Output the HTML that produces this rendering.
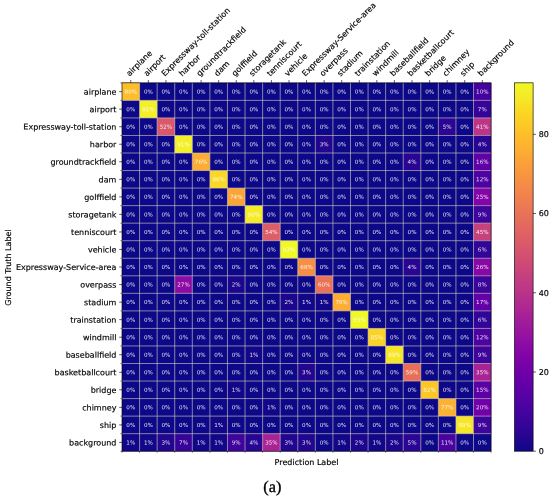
<!DOCTYPE html>
<html><head><meta charset="utf-8"><title>Confusion matrix (a)</title>
<style>html,body{margin:0;padding:0;background:#fff}body{width:550px;height:500px;overflow:hidden}svg{display:block}text{font-family:"DejaVu Sans","Liberation Sans",sans-serif;text-rendering:geometricPrecision}.t{font-size:8px;fill:#000;stroke:#000;stroke-width:0.16px}.c{font-size:56px;fill:#fff;fill-opacity:0.88;text-anchor:middle}.cap{font-family:"Liberation Serif","DejaVu Serif",serif;font-size:16.3px;fill:#000;stroke:#000;stroke-width:0.35px}</style></head><body>
<svg width="550" height="500" viewBox="0 0 550 500">
<rect width="550" height="500" fill="#fff"/>
<defs><linearGradient id="pl" x1="0" y1="1" x2="0" y2="0">
<stop offset="0.0000" stop-color="#0d0887"/>
<stop offset="0.0208" stop-color="#1b068d"/>
<stop offset="0.0417" stop-color="#260591"/>
<stop offset="0.0625" stop-color="#310597"/>
<stop offset="0.0833" stop-color="#3a049a"/>
<stop offset="0.1042" stop-color="#43039e"/>
<stop offset="0.1250" stop-color="#4c02a1"/>
<stop offset="0.1458" stop-color="#5502a4"/>
<stop offset="0.1667" stop-color="#5c01a6"/>
<stop offset="0.1875" stop-color="#6600a7"/>
<stop offset="0.2083" stop-color="#6e00a8"/>
<stop offset="0.2292" stop-color="#7501a8"/>
<stop offset="0.2500" stop-color="#7e03a8"/>
<stop offset="0.2708" stop-color="#8606a6"/>
<stop offset="0.2917" stop-color="#8d0ba5"/>
<stop offset="0.3125" stop-color="#9511a1"/>
<stop offset="0.3333" stop-color="#9c179e"/>
<stop offset="0.3542" stop-color="#a21d9a"/>
<stop offset="0.3750" stop-color="#aa2395"/>
<stop offset="0.3958" stop-color="#b02991"/>
<stop offset="0.4167" stop-color="#b52f8c"/>
<stop offset="0.4375" stop-color="#bc3587"/>
<stop offset="0.4583" stop-color="#c13b82"/>
<stop offset="0.4792" stop-color="#c6417d"/>
<stop offset="0.5000" stop-color="#cc4778"/>
<stop offset="0.5208" stop-color="#d04d73"/>
<stop offset="0.5417" stop-color="#d5536f"/>
<stop offset="0.5625" stop-color="#da5a6a"/>
<stop offset="0.5833" stop-color="#de5f65"/>
<stop offset="0.6042" stop-color="#e26561"/>
<stop offset="0.6250" stop-color="#e66c5c"/>
<stop offset="0.6458" stop-color="#e97257"/>
<stop offset="0.6667" stop-color="#ed7953"/>
<stop offset="0.6875" stop-color="#f0804e"/>
<stop offset="0.7083" stop-color="#f3874a"/>
<stop offset="0.7292" stop-color="#f68d45"/>
<stop offset="0.7500" stop-color="#f89540"/>
<stop offset="0.7708" stop-color="#fa9c3c"/>
<stop offset="0.7917" stop-color="#fca338"/>
<stop offset="0.8125" stop-color="#fdac33"/>
<stop offset="0.8333" stop-color="#fdb42f"/>
<stop offset="0.8542" stop-color="#febb2b"/>
<stop offset="0.8750" stop-color="#fdc527"/>
<stop offset="0.8958" stop-color="#fccd25"/>
<stop offset="0.9167" stop-color="#fbd524"/>
<stop offset="0.9375" stop-color="#f8df25"/>
<stop offset="0.9583" stop-color="#f6e826"/>
<stop offset="0.9792" stop-color="#f3f027"/>
<stop offset="1.0000" stop-color="#f0f921"/>
</linearGradient></defs>
<rect x="122" y="82.85" width="369.1" height="368.35" fill="#0d0887"/>
<rect x="122.00" y="82.85" width="17.58" height="17.54" fill="#febe2a"/>
<rect x="473.52" y="82.85" width="17.58" height="17.54" fill="#44039e"/>
<rect x="139.58" y="100.39" width="17.58" height="17.54" fill="#f3f027"/>
<rect x="473.52" y="100.39" width="17.58" height="17.54" fill="#370499"/>
<rect x="157.15" y="117.93" width="17.58" height="17.54" fill="#d9586a"/>
<rect x="438.37" y="117.93" width="17.58" height="17.54" fill="#2c0594"/>
<rect x="473.52" y="117.93" width="17.58" height="17.54" fill="#bc3587"/>
<rect x="174.73" y="135.47" width="17.58" height="17.54" fill="#f3f027"/>
<rect x="315.34" y="135.47" width="17.58" height="17.54" fill="#220690"/>
<rect x="473.52" y="135.47" width="17.58" height="17.54" fill="#280592"/>
<rect x="192.30" y="153.01" width="17.58" height="17.54" fill="#fdae32"/>
<rect x="403.22" y="153.01" width="17.58" height="17.54" fill="#280592"/>
<rect x="473.52" y="153.01" width="17.58" height="17.54" fill="#6001a6"/>
<rect x="209.88" y="170.55" width="17.58" height="17.54" fill="#fad824"/>
<rect x="473.52" y="170.55" width="17.58" height="17.54" fill="#4e02a2"/>
<rect x="227.46" y="188.09" width="17.58" height="17.54" fill="#fca537"/>
<rect x="473.52" y="188.09" width="17.58" height="17.54" fill="#8405a7"/>
<rect x="245.03" y="205.63" width="17.58" height="17.54" fill="#f5eb27"/>
<rect x="473.52" y="205.63" width="17.58" height="17.54" fill="#3f049c"/>
<rect x="262.61" y="223.17" width="17.58" height="17.54" fill="#dd5e66"/>
<rect x="473.52" y="223.17" width="17.58" height="17.54" fill="#c7427c"/>
<rect x="280.19" y="240.71" width="17.58" height="17.54" fill="#f0f921"/>
<rect x="473.52" y="240.71" width="17.58" height="17.54" fill="#310597"/>
<rect x="297.76" y="258.25" width="17.58" height="17.54" fill="#f68f44"/>
<rect x="403.22" y="258.25" width="17.58" height="17.54" fill="#280592"/>
<rect x="473.52" y="258.25" width="17.58" height="17.54" fill="#8808a6"/>
<rect x="174.73" y="275.80" width="17.58" height="17.54" fill="#8d0ba5"/>
<rect x="227.46" y="275.80" width="17.58" height="17.54" fill="#1b068d"/>
<rect x="315.34" y="275.80" width="17.58" height="17.54" fill="#e97257"/>
<rect x="473.52" y="275.80" width="17.58" height="17.54" fill="#3c049b"/>
<rect x="280.19" y="293.34" width="17.58" height="17.54" fill="#1b068d"/>
<rect x="297.76" y="293.34" width="17.58" height="17.54" fill="#130789"/>
<rect x="315.34" y="293.34" width="17.58" height="17.54" fill="#130789"/>
<rect x="332.91" y="293.34" width="17.58" height="17.54" fill="#fdae32"/>
<rect x="473.52" y="293.34" width="17.58" height="17.54" fill="#6300a7"/>
<rect x="350.49" y="310.88" width="17.58" height="17.54" fill="#f0f921"/>
<rect x="473.52" y="310.88" width="17.58" height="17.54" fill="#310597"/>
<rect x="368.07" y="328.42" width="17.58" height="17.54" fill="#fbd324"/>
<rect x="473.52" y="328.42" width="17.58" height="17.54" fill="#4e02a2"/>
<rect x="245.03" y="345.96" width="17.58" height="17.54" fill="#130789"/>
<rect x="385.64" y="345.96" width="17.58" height="17.54" fill="#f6e626"/>
<rect x="473.52" y="345.96" width="17.58" height="17.54" fill="#3f049c"/>
<rect x="297.76" y="363.50" width="17.58" height="17.54" fill="#220690"/>
<rect x="403.22" y="363.50" width="17.58" height="17.54" fill="#e76f5a"/>
<rect x="473.52" y="363.50" width="17.58" height="17.54" fill="#aa2395"/>
<rect x="227.46" y="381.04" width="17.58" height="17.54" fill="#130789"/>
<rect x="420.80" y="381.04" width="17.58" height="17.54" fill="#fdc627"/>
<rect x="473.52" y="381.04" width="17.58" height="17.54" fill="#5b01a5"/>
<rect x="262.61" y="398.58" width="17.58" height="17.54" fill="#130789"/>
<rect x="438.37" y="398.58" width="17.58" height="17.54" fill="#fdb130"/>
<rect x="473.52" y="398.58" width="17.58" height="17.54" fill="#7100a8"/>
<rect x="209.88" y="416.12" width="17.58" height="17.54" fill="#130789"/>
<rect x="455.95" y="416.12" width="17.58" height="17.54" fill="#f6e626"/>
<rect x="473.52" y="416.12" width="17.58" height="17.54" fill="#3f049c"/>
<rect x="122.00" y="433.66" width="17.58" height="17.54" fill="#130789"/>
<rect x="139.58" y="433.66" width="17.58" height="17.54" fill="#130789"/>
<rect x="157.15" y="433.66" width="17.58" height="17.54" fill="#220690"/>
<rect x="174.73" y="433.66" width="17.58" height="17.54" fill="#370499"/>
<rect x="192.30" y="433.66" width="17.58" height="17.54" fill="#130789"/>
<rect x="209.88" y="433.66" width="17.58" height="17.54" fill="#130789"/>
<rect x="227.46" y="433.66" width="17.58" height="17.54" fill="#3f049c"/>
<rect x="245.03" y="433.66" width="17.58" height="17.54" fill="#280592"/>
<rect x="262.61" y="433.66" width="17.58" height="17.54" fill="#aa2395"/>
<rect x="280.19" y="433.66" width="17.58" height="17.54" fill="#220690"/>
<rect x="297.76" y="433.66" width="17.58" height="17.54" fill="#220690"/>
<rect x="332.91" y="433.66" width="17.58" height="17.54" fill="#130789"/>
<rect x="350.49" y="433.66" width="17.58" height="17.54" fill="#1b068d"/>
<rect x="368.07" y="433.66" width="17.58" height="17.54" fill="#130789"/>
<rect x="385.64" y="433.66" width="17.58" height="17.54" fill="#1b068d"/>
<rect x="403.22" y="433.66" width="17.58" height="17.54" fill="#2c0594"/>
<rect x="438.37" y="433.66" width="17.58" height="17.54" fill="#4903a0"/>
<path d="M139.58 82.85V451.2M122 100.39H491.1M157.15 82.85V451.2M122 117.93H491.1M174.73 82.85V451.2M122 135.47H491.1M192.30 82.85V451.2M122 153.01H491.1M209.88 82.85V451.2M122 170.55H491.1M227.46 82.85V451.2M122 188.09H491.1M245.03 82.85V451.2M122 205.63H491.1M262.61 82.85V451.2M122 223.17H491.1M280.19 82.85V451.2M122 240.71H491.1M297.76 82.85V451.2M122 258.25H491.1M315.34 82.85V451.2M122 275.80H491.1M332.91 82.85V451.2M122 293.34H491.1M350.49 82.85V451.2M122 310.88H491.1M368.07 82.85V451.2M122 328.42H491.1M385.64 82.85V451.2M122 345.96H491.1M403.22 82.85V451.2M122 363.50H491.1M420.80 82.85V451.2M122 381.04H491.1M438.37 82.85V451.2M122 398.58H491.1M455.95 82.85V451.2M122 416.12H491.1M473.52 82.85V451.2M122 433.66H491.1" stroke="#d4ccc0" stroke-width="0.62" fill="none"/>
<g class="c">
<text transform="translate(130.79 93.64) rotate(0.4) scale(0.1)">80%</text>
<text transform="translate(148.36 93.64) rotate(0.4) scale(0.1)">0%</text>
<text transform="translate(165.94 93.64) rotate(0.4) scale(0.1)">0%</text>
<text transform="translate(183.52 93.64) rotate(0.4) scale(0.1)">0%</text>
<text transform="translate(201.09 93.64) rotate(0.4) scale(0.1)">0%</text>
<text transform="translate(218.67 93.64) rotate(0.4) scale(0.1)">0%</text>
<text transform="translate(236.25 93.64) rotate(0.4) scale(0.1)">0%</text>
<text transform="translate(253.82 93.64) rotate(0.4) scale(0.1)">0%</text>
<text transform="translate(271.40 93.64) rotate(0.4) scale(0.1)">0%</text>
<text transform="translate(288.97 93.64) rotate(0.4) scale(0.1)">0%</text>
<text transform="translate(306.55 93.64) rotate(0.4) scale(0.1)">0%</text>
<text transform="translate(324.13 93.64) rotate(0.4) scale(0.1)">0%</text>
<text transform="translate(341.70 93.64) rotate(0.4) scale(0.1)">0%</text>
<text transform="translate(359.28 93.64) rotate(0.4) scale(0.1)">0%</text>
<text transform="translate(376.85 93.64) rotate(0.4) scale(0.1)">0%</text>
<text transform="translate(394.43 93.64) rotate(0.4) scale(0.1)">0%</text>
<text transform="translate(412.01 93.64) rotate(0.4) scale(0.1)">0%</text>
<text transform="translate(429.58 93.64) rotate(0.4) scale(0.1)">0%</text>
<text transform="translate(447.16 93.64) rotate(0.4) scale(0.1)">0%</text>
<text transform="translate(464.74 93.64) rotate(0.4) scale(0.1)">0%</text>
<text transform="translate(482.31 93.64) rotate(0.4) scale(0.1)">10%</text>
<text transform="translate(130.79 111.18) rotate(0.4) scale(0.1)">0%</text>
<text transform="translate(148.36 111.18) rotate(0.4) scale(0.1)">91%</text>
<text transform="translate(165.94 111.18) rotate(0.4) scale(0.1)">0%</text>
<text transform="translate(183.52 111.18) rotate(0.4) scale(0.1)">0%</text>
<text transform="translate(201.09 111.18) rotate(0.4) scale(0.1)">0%</text>
<text transform="translate(218.67 111.18) rotate(0.4) scale(0.1)">0%</text>
<text transform="translate(236.25 111.18) rotate(0.4) scale(0.1)">0%</text>
<text transform="translate(253.82 111.18) rotate(0.4) scale(0.1)">0%</text>
<text transform="translate(271.40 111.18) rotate(0.4) scale(0.1)">0%</text>
<text transform="translate(288.97 111.18) rotate(0.4) scale(0.1)">0%</text>
<text transform="translate(306.55 111.18) rotate(0.4) scale(0.1)">0%</text>
<text transform="translate(324.13 111.18) rotate(0.4) scale(0.1)">0%</text>
<text transform="translate(341.70 111.18) rotate(0.4) scale(0.1)">0%</text>
<text transform="translate(359.28 111.18) rotate(0.4) scale(0.1)">0%</text>
<text transform="translate(376.85 111.18) rotate(0.4) scale(0.1)">0%</text>
<text transform="translate(394.43 111.18) rotate(0.4) scale(0.1)">0%</text>
<text transform="translate(412.01 111.18) rotate(0.4) scale(0.1)">0%</text>
<text transform="translate(429.58 111.18) rotate(0.4) scale(0.1)">0%</text>
<text transform="translate(447.16 111.18) rotate(0.4) scale(0.1)">0%</text>
<text transform="translate(464.74 111.18) rotate(0.4) scale(0.1)">0%</text>
<text transform="translate(482.31 111.18) rotate(0.4) scale(0.1)">7%</text>
<text transform="translate(130.79 128.72) rotate(0.4) scale(0.1)">0%</text>
<text transform="translate(148.36 128.72) rotate(0.4) scale(0.1)">0%</text>
<text transform="translate(165.94 128.72) rotate(0.4) scale(0.1)">52%</text>
<text transform="translate(183.52 128.72) rotate(0.4) scale(0.1)">0%</text>
<text transform="translate(201.09 128.72) rotate(0.4) scale(0.1)">0%</text>
<text transform="translate(218.67 128.72) rotate(0.4) scale(0.1)">0%</text>
<text transform="translate(236.25 128.72) rotate(0.4) scale(0.1)">0%</text>
<text transform="translate(253.82 128.72) rotate(0.4) scale(0.1)">0%</text>
<text transform="translate(271.40 128.72) rotate(0.4) scale(0.1)">0%</text>
<text transform="translate(288.97 128.72) rotate(0.4) scale(0.1)">0%</text>
<text transform="translate(306.55 128.72) rotate(0.4) scale(0.1)">0%</text>
<text transform="translate(324.13 128.72) rotate(0.4) scale(0.1)">0%</text>
<text transform="translate(341.70 128.72) rotate(0.4) scale(0.1)">0%</text>
<text transform="translate(359.28 128.72) rotate(0.4) scale(0.1)">0%</text>
<text transform="translate(376.85 128.72) rotate(0.4) scale(0.1)">0%</text>
<text transform="translate(394.43 128.72) rotate(0.4) scale(0.1)">0%</text>
<text transform="translate(412.01 128.72) rotate(0.4) scale(0.1)">0%</text>
<text transform="translate(429.58 128.72) rotate(0.4) scale(0.1)">0%</text>
<text transform="translate(447.16 128.72) rotate(0.4) scale(0.1)">5%</text>
<text transform="translate(464.74 128.72) rotate(0.4) scale(0.1)">0%</text>
<text transform="translate(482.31 128.72) rotate(0.4) scale(0.1)">41%</text>
<text transform="translate(130.79 146.26) rotate(0.4) scale(0.1)">0%</text>
<text transform="translate(148.36 146.26) rotate(0.4) scale(0.1)">0%</text>
<text transform="translate(165.94 146.26) rotate(0.4) scale(0.1)">0%</text>
<text transform="translate(183.52 146.26) rotate(0.4) scale(0.1)">91%</text>
<text transform="translate(201.09 146.26) rotate(0.4) scale(0.1)">0%</text>
<text transform="translate(218.67 146.26) rotate(0.4) scale(0.1)">0%</text>
<text transform="translate(236.25 146.26) rotate(0.4) scale(0.1)">0%</text>
<text transform="translate(253.82 146.26) rotate(0.4) scale(0.1)">0%</text>
<text transform="translate(271.40 146.26) rotate(0.4) scale(0.1)">0%</text>
<text transform="translate(288.97 146.26) rotate(0.4) scale(0.1)">0%</text>
<text transform="translate(306.55 146.26) rotate(0.4) scale(0.1)">0%</text>
<text transform="translate(324.13 146.26) rotate(0.4) scale(0.1)">3%</text>
<text transform="translate(341.70 146.26) rotate(0.4) scale(0.1)">0%</text>
<text transform="translate(359.28 146.26) rotate(0.4) scale(0.1)">0%</text>
<text transform="translate(376.85 146.26) rotate(0.4) scale(0.1)">0%</text>
<text transform="translate(394.43 146.26) rotate(0.4) scale(0.1)">0%</text>
<text transform="translate(412.01 146.26) rotate(0.4) scale(0.1)">0%</text>
<text transform="translate(429.58 146.26) rotate(0.4) scale(0.1)">0%</text>
<text transform="translate(447.16 146.26) rotate(0.4) scale(0.1)">0%</text>
<text transform="translate(464.74 146.26) rotate(0.4) scale(0.1)">0%</text>
<text transform="translate(482.31 146.26) rotate(0.4) scale(0.1)">4%</text>
<text transform="translate(130.79 163.80) rotate(0.4) scale(0.1)">0%</text>
<text transform="translate(148.36 163.80) rotate(0.4) scale(0.1)">0%</text>
<text transform="translate(165.94 163.80) rotate(0.4) scale(0.1)">0%</text>
<text transform="translate(183.52 163.80) rotate(0.4) scale(0.1)">0%</text>
<text transform="translate(201.09 163.80) rotate(0.4) scale(0.1)">76%</text>
<text transform="translate(218.67 163.80) rotate(0.4) scale(0.1)">0%</text>
<text transform="translate(236.25 163.80) rotate(0.4) scale(0.1)">0%</text>
<text transform="translate(253.82 163.80) rotate(0.4) scale(0.1)">0%</text>
<text transform="translate(271.40 163.80) rotate(0.4) scale(0.1)">0%</text>
<text transform="translate(288.97 163.80) rotate(0.4) scale(0.1)">0%</text>
<text transform="translate(306.55 163.80) rotate(0.4) scale(0.1)">0%</text>
<text transform="translate(324.13 163.80) rotate(0.4) scale(0.1)">0%</text>
<text transform="translate(341.70 163.80) rotate(0.4) scale(0.1)">0%</text>
<text transform="translate(359.28 163.80) rotate(0.4) scale(0.1)">0%</text>
<text transform="translate(376.85 163.80) rotate(0.4) scale(0.1)">0%</text>
<text transform="translate(394.43 163.80) rotate(0.4) scale(0.1)">0%</text>
<text transform="translate(412.01 163.80) rotate(0.4) scale(0.1)">4%</text>
<text transform="translate(429.58 163.80) rotate(0.4) scale(0.1)">0%</text>
<text transform="translate(447.16 163.80) rotate(0.4) scale(0.1)">0%</text>
<text transform="translate(464.74 163.80) rotate(0.4) scale(0.1)">0%</text>
<text transform="translate(482.31 163.80) rotate(0.4) scale(0.1)">16%</text>
<text transform="translate(130.79 181.34) rotate(0.4) scale(0.1)">0%</text>
<text transform="translate(148.36 181.34) rotate(0.4) scale(0.1)">0%</text>
<text transform="translate(165.94 181.34) rotate(0.4) scale(0.1)">0%</text>
<text transform="translate(183.52 181.34) rotate(0.4) scale(0.1)">0%</text>
<text transform="translate(201.09 181.34) rotate(0.4) scale(0.1)">0%</text>
<text transform="translate(218.67 181.34) rotate(0.4) scale(0.1)">86%</text>
<text transform="translate(236.25 181.34) rotate(0.4) scale(0.1)">0%</text>
<text transform="translate(253.82 181.34) rotate(0.4) scale(0.1)">0%</text>
<text transform="translate(271.40 181.34) rotate(0.4) scale(0.1)">0%</text>
<text transform="translate(288.97 181.34) rotate(0.4) scale(0.1)">0%</text>
<text transform="translate(306.55 181.34) rotate(0.4) scale(0.1)">0%</text>
<text transform="translate(324.13 181.34) rotate(0.4) scale(0.1)">0%</text>
<text transform="translate(341.70 181.34) rotate(0.4) scale(0.1)">0%</text>
<text transform="translate(359.28 181.34) rotate(0.4) scale(0.1)">0%</text>
<text transform="translate(376.85 181.34) rotate(0.4) scale(0.1)">0%</text>
<text transform="translate(394.43 181.34) rotate(0.4) scale(0.1)">0%</text>
<text transform="translate(412.01 181.34) rotate(0.4) scale(0.1)">0%</text>
<text transform="translate(429.58 181.34) rotate(0.4) scale(0.1)">0%</text>
<text transform="translate(447.16 181.34) rotate(0.4) scale(0.1)">0%</text>
<text transform="translate(464.74 181.34) rotate(0.4) scale(0.1)">0%</text>
<text transform="translate(482.31 181.34) rotate(0.4) scale(0.1)">12%</text>
<text transform="translate(130.79 198.88) rotate(0.4) scale(0.1)">0%</text>
<text transform="translate(148.36 198.88) rotate(0.4) scale(0.1)">0%</text>
<text transform="translate(165.94 198.88) rotate(0.4) scale(0.1)">0%</text>
<text transform="translate(183.52 198.88) rotate(0.4) scale(0.1)">0%</text>
<text transform="translate(201.09 198.88) rotate(0.4) scale(0.1)">0%</text>
<text transform="translate(218.67 198.88) rotate(0.4) scale(0.1)">0%</text>
<text transform="translate(236.25 198.88) rotate(0.4) scale(0.1)">74%</text>
<text transform="translate(253.82 198.88) rotate(0.4) scale(0.1)">0%</text>
<text transform="translate(271.40 198.88) rotate(0.4) scale(0.1)">0%</text>
<text transform="translate(288.97 198.88) rotate(0.4) scale(0.1)">0%</text>
<text transform="translate(306.55 198.88) rotate(0.4) scale(0.1)">0%</text>
<text transform="translate(324.13 198.88) rotate(0.4) scale(0.1)">0%</text>
<text transform="translate(341.70 198.88) rotate(0.4) scale(0.1)">0%</text>
<text transform="translate(359.28 198.88) rotate(0.4) scale(0.1)">0%</text>
<text transform="translate(376.85 198.88) rotate(0.4) scale(0.1)">0%</text>
<text transform="translate(394.43 198.88) rotate(0.4) scale(0.1)">0%</text>
<text transform="translate(412.01 198.88) rotate(0.4) scale(0.1)">0%</text>
<text transform="translate(429.58 198.88) rotate(0.4) scale(0.1)">0%</text>
<text transform="translate(447.16 198.88) rotate(0.4) scale(0.1)">0%</text>
<text transform="translate(464.74 198.88) rotate(0.4) scale(0.1)">0%</text>
<text transform="translate(482.31 198.88) rotate(0.4) scale(0.1)">25%</text>
<text transform="translate(130.79 216.42) rotate(0.4) scale(0.1)">0%</text>
<text transform="translate(148.36 216.42) rotate(0.4) scale(0.1)">0%</text>
<text transform="translate(165.94 216.42) rotate(0.4) scale(0.1)">0%</text>
<text transform="translate(183.52 216.42) rotate(0.4) scale(0.1)">0%</text>
<text transform="translate(201.09 216.42) rotate(0.4) scale(0.1)">0%</text>
<text transform="translate(218.67 216.42) rotate(0.4) scale(0.1)">0%</text>
<text transform="translate(236.25 216.42) rotate(0.4) scale(0.1)">0%</text>
<text transform="translate(253.82 216.42) rotate(0.4) scale(0.1)">90%</text>
<text transform="translate(271.40 216.42) rotate(0.4) scale(0.1)">0%</text>
<text transform="translate(288.97 216.42) rotate(0.4) scale(0.1)">0%</text>
<text transform="translate(306.55 216.42) rotate(0.4) scale(0.1)">0%</text>
<text transform="translate(324.13 216.42) rotate(0.4) scale(0.1)">0%</text>
<text transform="translate(341.70 216.42) rotate(0.4) scale(0.1)">0%</text>
<text transform="translate(359.28 216.42) rotate(0.4) scale(0.1)">0%</text>
<text transform="translate(376.85 216.42) rotate(0.4) scale(0.1)">0%</text>
<text transform="translate(394.43 216.42) rotate(0.4) scale(0.1)">0%</text>
<text transform="translate(412.01 216.42) rotate(0.4) scale(0.1)">0%</text>
<text transform="translate(429.58 216.42) rotate(0.4) scale(0.1)">0%</text>
<text transform="translate(447.16 216.42) rotate(0.4) scale(0.1)">0%</text>
<text transform="translate(464.74 216.42) rotate(0.4) scale(0.1)">0%</text>
<text transform="translate(482.31 216.42) rotate(0.4) scale(0.1)">9%</text>
<text transform="translate(130.79 233.96) rotate(0.4) scale(0.1)">0%</text>
<text transform="translate(148.36 233.96) rotate(0.4) scale(0.1)">0%</text>
<text transform="translate(165.94 233.96) rotate(0.4) scale(0.1)">0%</text>
<text transform="translate(183.52 233.96) rotate(0.4) scale(0.1)">0%</text>
<text transform="translate(201.09 233.96) rotate(0.4) scale(0.1)">0%</text>
<text transform="translate(218.67 233.96) rotate(0.4) scale(0.1)">0%</text>
<text transform="translate(236.25 233.96) rotate(0.4) scale(0.1)">0%</text>
<text transform="translate(253.82 233.96) rotate(0.4) scale(0.1)">0%</text>
<text transform="translate(271.40 233.96) rotate(0.4) scale(0.1)">54%</text>
<text transform="translate(288.97 233.96) rotate(0.4) scale(0.1)">0%</text>
<text transform="translate(306.55 233.96) rotate(0.4) scale(0.1)">0%</text>
<text transform="translate(324.13 233.96) rotate(0.4) scale(0.1)">0%</text>
<text transform="translate(341.70 233.96) rotate(0.4) scale(0.1)">0%</text>
<text transform="translate(359.28 233.96) rotate(0.4) scale(0.1)">0%</text>
<text transform="translate(376.85 233.96) rotate(0.4) scale(0.1)">0%</text>
<text transform="translate(394.43 233.96) rotate(0.4) scale(0.1)">0%</text>
<text transform="translate(412.01 233.96) rotate(0.4) scale(0.1)">0%</text>
<text transform="translate(429.58 233.96) rotate(0.4) scale(0.1)">0%</text>
<text transform="translate(447.16 233.96) rotate(0.4) scale(0.1)">0%</text>
<text transform="translate(464.74 233.96) rotate(0.4) scale(0.1)">0%</text>
<text transform="translate(482.31 233.96) rotate(0.4) scale(0.1)">45%</text>
<text transform="translate(130.79 251.50) rotate(0.4) scale(0.1)">0%</text>
<text transform="translate(148.36 251.50) rotate(0.4) scale(0.1)">0%</text>
<text transform="translate(165.94 251.50) rotate(0.4) scale(0.1)">0%</text>
<text transform="translate(183.52 251.50) rotate(0.4) scale(0.1)">0%</text>
<text transform="translate(201.09 251.50) rotate(0.4) scale(0.1)">0%</text>
<text transform="translate(218.67 251.50) rotate(0.4) scale(0.1)">0%</text>
<text transform="translate(236.25 251.50) rotate(0.4) scale(0.1)">0%</text>
<text transform="translate(253.82 251.50) rotate(0.4) scale(0.1)">0%</text>
<text transform="translate(271.40 251.50) rotate(0.4) scale(0.1)">0%</text>
<text transform="translate(288.97 251.50) rotate(0.4) scale(0.1)">93%</text>
<text transform="translate(306.55 251.50) rotate(0.4) scale(0.1)">0%</text>
<text transform="translate(324.13 251.50) rotate(0.4) scale(0.1)">0%</text>
<text transform="translate(341.70 251.50) rotate(0.4) scale(0.1)">0%</text>
<text transform="translate(359.28 251.50) rotate(0.4) scale(0.1)">0%</text>
<text transform="translate(376.85 251.50) rotate(0.4) scale(0.1)">0%</text>
<text transform="translate(394.43 251.50) rotate(0.4) scale(0.1)">0%</text>
<text transform="translate(412.01 251.50) rotate(0.4) scale(0.1)">0%</text>
<text transform="translate(429.58 251.50) rotate(0.4) scale(0.1)">0%</text>
<text transform="translate(447.16 251.50) rotate(0.4) scale(0.1)">0%</text>
<text transform="translate(464.74 251.50) rotate(0.4) scale(0.1)">0%</text>
<text transform="translate(482.31 251.50) rotate(0.4) scale(0.1)">6%</text>
<text transform="translate(130.79 269.04) rotate(0.4) scale(0.1)">0%</text>
<text transform="translate(148.36 269.04) rotate(0.4) scale(0.1)">0%</text>
<text transform="translate(165.94 269.04) rotate(0.4) scale(0.1)">0%</text>
<text transform="translate(183.52 269.04) rotate(0.4) scale(0.1)">0%</text>
<text transform="translate(201.09 269.04) rotate(0.4) scale(0.1)">0%</text>
<text transform="translate(218.67 269.04) rotate(0.4) scale(0.1)">0%</text>
<text transform="translate(236.25 269.04) rotate(0.4) scale(0.1)">0%</text>
<text transform="translate(253.82 269.04) rotate(0.4) scale(0.1)">0%</text>
<text transform="translate(271.40 269.04) rotate(0.4) scale(0.1)">0%</text>
<text transform="translate(288.97 269.04) rotate(0.4) scale(0.1)">0%</text>
<text transform="translate(306.55 269.04) rotate(0.4) scale(0.1)">68%</text>
<text transform="translate(324.13 269.04) rotate(0.4) scale(0.1)">0%</text>
<text transform="translate(341.70 269.04) rotate(0.4) scale(0.1)">0%</text>
<text transform="translate(359.28 269.04) rotate(0.4) scale(0.1)">0%</text>
<text transform="translate(376.85 269.04) rotate(0.4) scale(0.1)">0%</text>
<text transform="translate(394.43 269.04) rotate(0.4) scale(0.1)">0%</text>
<text transform="translate(412.01 269.04) rotate(0.4) scale(0.1)">4%</text>
<text transform="translate(429.58 269.04) rotate(0.4) scale(0.1)">0%</text>
<text transform="translate(447.16 269.04) rotate(0.4) scale(0.1)">0%</text>
<text transform="translate(464.74 269.04) rotate(0.4) scale(0.1)">0%</text>
<text transform="translate(482.31 269.04) rotate(0.4) scale(0.1)">26%</text>
<text transform="translate(130.79 286.58) rotate(0.4) scale(0.1)">0%</text>
<text transform="translate(148.36 286.58) rotate(0.4) scale(0.1)">0%</text>
<text transform="translate(165.94 286.58) rotate(0.4) scale(0.1)">0%</text>
<text transform="translate(183.52 286.58) rotate(0.4) scale(0.1)">27%</text>
<text transform="translate(201.09 286.58) rotate(0.4) scale(0.1)">0%</text>
<text transform="translate(218.67 286.58) rotate(0.4) scale(0.1)">0%</text>
<text transform="translate(236.25 286.58) rotate(0.4) scale(0.1)">2%</text>
<text transform="translate(253.82 286.58) rotate(0.4) scale(0.1)">0%</text>
<text transform="translate(271.40 286.58) rotate(0.4) scale(0.1)">0%</text>
<text transform="translate(288.97 286.58) rotate(0.4) scale(0.1)">0%</text>
<text transform="translate(306.55 286.58) rotate(0.4) scale(0.1)">0%</text>
<text transform="translate(324.13 286.58) rotate(0.4) scale(0.1)">60%</text>
<text transform="translate(341.70 286.58) rotate(0.4) scale(0.1)">0%</text>
<text transform="translate(359.28 286.58) rotate(0.4) scale(0.1)">0%</text>
<text transform="translate(376.85 286.58) rotate(0.4) scale(0.1)">0%</text>
<text transform="translate(394.43 286.58) rotate(0.4) scale(0.1)">0%</text>
<text transform="translate(412.01 286.58) rotate(0.4) scale(0.1)">0%</text>
<text transform="translate(429.58 286.58) rotate(0.4) scale(0.1)">0%</text>
<text transform="translate(447.16 286.58) rotate(0.4) scale(0.1)">0%</text>
<text transform="translate(464.74 286.58) rotate(0.4) scale(0.1)">0%</text>
<text transform="translate(482.31 286.58) rotate(0.4) scale(0.1)">8%</text>
<text transform="translate(130.79 304.12) rotate(0.4) scale(0.1)">0%</text>
<text transform="translate(148.36 304.12) rotate(0.4) scale(0.1)">0%</text>
<text transform="translate(165.94 304.12) rotate(0.4) scale(0.1)">0%</text>
<text transform="translate(183.52 304.12) rotate(0.4) scale(0.1)">0%</text>
<text transform="translate(201.09 304.12) rotate(0.4) scale(0.1)">0%</text>
<text transform="translate(218.67 304.12) rotate(0.4) scale(0.1)">0%</text>
<text transform="translate(236.25 304.12) rotate(0.4) scale(0.1)">0%</text>
<text transform="translate(253.82 304.12) rotate(0.4) scale(0.1)">0%</text>
<text transform="translate(271.40 304.12) rotate(0.4) scale(0.1)">0%</text>
<text transform="translate(288.97 304.12) rotate(0.4) scale(0.1)">2%</text>
<text transform="translate(306.55 304.12) rotate(0.4) scale(0.1)">1%</text>
<text transform="translate(324.13 304.12) rotate(0.4) scale(0.1)">1%</text>
<text transform="translate(341.70 304.12) rotate(0.4) scale(0.1)">76%</text>
<text transform="translate(359.28 304.12) rotate(0.4) scale(0.1)">0%</text>
<text transform="translate(376.85 304.12) rotate(0.4) scale(0.1)">0%</text>
<text transform="translate(394.43 304.12) rotate(0.4) scale(0.1)">0%</text>
<text transform="translate(412.01 304.12) rotate(0.4) scale(0.1)">0%</text>
<text transform="translate(429.58 304.12) rotate(0.4) scale(0.1)">0%</text>
<text transform="translate(447.16 304.12) rotate(0.4) scale(0.1)">0%</text>
<text transform="translate(464.74 304.12) rotate(0.4) scale(0.1)">0%</text>
<text transform="translate(482.31 304.12) rotate(0.4) scale(0.1)">17%</text>
<text transform="translate(130.79 321.66) rotate(0.4) scale(0.1)">0%</text>
<text transform="translate(148.36 321.66) rotate(0.4) scale(0.1)">0%</text>
<text transform="translate(165.94 321.66) rotate(0.4) scale(0.1)">0%</text>
<text transform="translate(183.52 321.66) rotate(0.4) scale(0.1)">0%</text>
<text transform="translate(201.09 321.66) rotate(0.4) scale(0.1)">0%</text>
<text transform="translate(218.67 321.66) rotate(0.4) scale(0.1)">0%</text>
<text transform="translate(236.25 321.66) rotate(0.4) scale(0.1)">0%</text>
<text transform="translate(253.82 321.66) rotate(0.4) scale(0.1)">0%</text>
<text transform="translate(271.40 321.66) rotate(0.4) scale(0.1)">0%</text>
<text transform="translate(288.97 321.66) rotate(0.4) scale(0.1)">0%</text>
<text transform="translate(306.55 321.66) rotate(0.4) scale(0.1)">0%</text>
<text transform="translate(324.13 321.66) rotate(0.4) scale(0.1)">0%</text>
<text transform="translate(341.70 321.66) rotate(0.4) scale(0.1)">0%</text>
<text transform="translate(359.28 321.66) rotate(0.4) scale(0.1)">93%</text>
<text transform="translate(376.85 321.66) rotate(0.4) scale(0.1)">0%</text>
<text transform="translate(394.43 321.66) rotate(0.4) scale(0.1)">0%</text>
<text transform="translate(412.01 321.66) rotate(0.4) scale(0.1)">0%</text>
<text transform="translate(429.58 321.66) rotate(0.4) scale(0.1)">0%</text>
<text transform="translate(447.16 321.66) rotate(0.4) scale(0.1)">0%</text>
<text transform="translate(464.74 321.66) rotate(0.4) scale(0.1)">0%</text>
<text transform="translate(482.31 321.66) rotate(0.4) scale(0.1)">6%</text>
<text transform="translate(130.79 339.20) rotate(0.4) scale(0.1)">0%</text>
<text transform="translate(148.36 339.20) rotate(0.4) scale(0.1)">0%</text>
<text transform="translate(165.94 339.20) rotate(0.4) scale(0.1)">0%</text>
<text transform="translate(183.52 339.20) rotate(0.4) scale(0.1)">0%</text>
<text transform="translate(201.09 339.20) rotate(0.4) scale(0.1)">0%</text>
<text transform="translate(218.67 339.20) rotate(0.4) scale(0.1)">0%</text>
<text transform="translate(236.25 339.20) rotate(0.4) scale(0.1)">0%</text>
<text transform="translate(253.82 339.20) rotate(0.4) scale(0.1)">0%</text>
<text transform="translate(271.40 339.20) rotate(0.4) scale(0.1)">0%</text>
<text transform="translate(288.97 339.20) rotate(0.4) scale(0.1)">0%</text>
<text transform="translate(306.55 339.20) rotate(0.4) scale(0.1)">0%</text>
<text transform="translate(324.13 339.20) rotate(0.4) scale(0.1)">0%</text>
<text transform="translate(341.70 339.20) rotate(0.4) scale(0.1)">0%</text>
<text transform="translate(359.28 339.20) rotate(0.4) scale(0.1)">0%</text>
<text transform="translate(376.85 339.20) rotate(0.4) scale(0.1)">85%</text>
<text transform="translate(394.43 339.20) rotate(0.4) scale(0.1)">0%</text>
<text transform="translate(412.01 339.20) rotate(0.4) scale(0.1)">0%</text>
<text transform="translate(429.58 339.20) rotate(0.4) scale(0.1)">0%</text>
<text transform="translate(447.16 339.20) rotate(0.4) scale(0.1)">0%</text>
<text transform="translate(464.74 339.20) rotate(0.4) scale(0.1)">0%</text>
<text transform="translate(482.31 339.20) rotate(0.4) scale(0.1)">12%</text>
<text transform="translate(130.79 356.74) rotate(0.4) scale(0.1)">0%</text>
<text transform="translate(148.36 356.74) rotate(0.4) scale(0.1)">0%</text>
<text transform="translate(165.94 356.74) rotate(0.4) scale(0.1)">0%</text>
<text transform="translate(183.52 356.74) rotate(0.4) scale(0.1)">0%</text>
<text transform="translate(201.09 356.74) rotate(0.4) scale(0.1)">0%</text>
<text transform="translate(218.67 356.74) rotate(0.4) scale(0.1)">0%</text>
<text transform="translate(236.25 356.74) rotate(0.4) scale(0.1)">0%</text>
<text transform="translate(253.82 356.74) rotate(0.4) scale(0.1)">1%</text>
<text transform="translate(271.40 356.74) rotate(0.4) scale(0.1)">0%</text>
<text transform="translate(288.97 356.74) rotate(0.4) scale(0.1)">0%</text>
<text transform="translate(306.55 356.74) rotate(0.4) scale(0.1)">0%</text>
<text transform="translate(324.13 356.74) rotate(0.4) scale(0.1)">0%</text>
<text transform="translate(341.70 356.74) rotate(0.4) scale(0.1)">0%</text>
<text transform="translate(359.28 356.74) rotate(0.4) scale(0.1)">0%</text>
<text transform="translate(376.85 356.74) rotate(0.4) scale(0.1)">0%</text>
<text transform="translate(394.43 356.74) rotate(0.4) scale(0.1)">89%</text>
<text transform="translate(412.01 356.74) rotate(0.4) scale(0.1)">0%</text>
<text transform="translate(429.58 356.74) rotate(0.4) scale(0.1)">0%</text>
<text transform="translate(447.16 356.74) rotate(0.4) scale(0.1)">0%</text>
<text transform="translate(464.74 356.74) rotate(0.4) scale(0.1)">0%</text>
<text transform="translate(482.31 356.74) rotate(0.4) scale(0.1)">9%</text>
<text transform="translate(130.79 374.28) rotate(0.4) scale(0.1)">0%</text>
<text transform="translate(148.36 374.28) rotate(0.4) scale(0.1)">0%</text>
<text transform="translate(165.94 374.28) rotate(0.4) scale(0.1)">0%</text>
<text transform="translate(183.52 374.28) rotate(0.4) scale(0.1)">0%</text>
<text transform="translate(201.09 374.28) rotate(0.4) scale(0.1)">0%</text>
<text transform="translate(218.67 374.28) rotate(0.4) scale(0.1)">0%</text>
<text transform="translate(236.25 374.28) rotate(0.4) scale(0.1)">0%</text>
<text transform="translate(253.82 374.28) rotate(0.4) scale(0.1)">0%</text>
<text transform="translate(271.40 374.28) rotate(0.4) scale(0.1)">0%</text>
<text transform="translate(288.97 374.28) rotate(0.4) scale(0.1)">0%</text>
<text transform="translate(306.55 374.28) rotate(0.4) scale(0.1)">3%</text>
<text transform="translate(324.13 374.28) rotate(0.4) scale(0.1)">0%</text>
<text transform="translate(341.70 374.28) rotate(0.4) scale(0.1)">0%</text>
<text transform="translate(359.28 374.28) rotate(0.4) scale(0.1)">0%</text>
<text transform="translate(376.85 374.28) rotate(0.4) scale(0.1)">0%</text>
<text transform="translate(394.43 374.28) rotate(0.4) scale(0.1)">0%</text>
<text transform="translate(412.01 374.28) rotate(0.4) scale(0.1)">59%</text>
<text transform="translate(429.58 374.28) rotate(0.4) scale(0.1)">0%</text>
<text transform="translate(447.16 374.28) rotate(0.4) scale(0.1)">0%</text>
<text transform="translate(464.74 374.28) rotate(0.4) scale(0.1)">0%</text>
<text transform="translate(482.31 374.28) rotate(0.4) scale(0.1)">35%</text>
<text transform="translate(130.79 391.82) rotate(0.4) scale(0.1)">0%</text>
<text transform="translate(148.36 391.82) rotate(0.4) scale(0.1)">0%</text>
<text transform="translate(165.94 391.82) rotate(0.4) scale(0.1)">0%</text>
<text transform="translate(183.52 391.82) rotate(0.4) scale(0.1)">0%</text>
<text transform="translate(201.09 391.82) rotate(0.4) scale(0.1)">0%</text>
<text transform="translate(218.67 391.82) rotate(0.4) scale(0.1)">0%</text>
<text transform="translate(236.25 391.82) rotate(0.4) scale(0.1)">1%</text>
<text transform="translate(253.82 391.82) rotate(0.4) scale(0.1)">0%</text>
<text transform="translate(271.40 391.82) rotate(0.4) scale(0.1)">0%</text>
<text transform="translate(288.97 391.82) rotate(0.4) scale(0.1)">0%</text>
<text transform="translate(306.55 391.82) rotate(0.4) scale(0.1)">0%</text>
<text transform="translate(324.13 391.82) rotate(0.4) scale(0.1)">0%</text>
<text transform="translate(341.70 391.82) rotate(0.4) scale(0.1)">0%</text>
<text transform="translate(359.28 391.82) rotate(0.4) scale(0.1)">0%</text>
<text transform="translate(376.85 391.82) rotate(0.4) scale(0.1)">0%</text>
<text transform="translate(394.43 391.82) rotate(0.4) scale(0.1)">0%</text>
<text transform="translate(412.01 391.82) rotate(0.4) scale(0.1)">0%</text>
<text transform="translate(429.58 391.82) rotate(0.4) scale(0.1)">82%</text>
<text transform="translate(447.16 391.82) rotate(0.4) scale(0.1)">0%</text>
<text transform="translate(464.74 391.82) rotate(0.4) scale(0.1)">0%</text>
<text transform="translate(482.31 391.82) rotate(0.4) scale(0.1)">15%</text>
<text transform="translate(130.79 409.36) rotate(0.4) scale(0.1)">0%</text>
<text transform="translate(148.36 409.36) rotate(0.4) scale(0.1)">0%</text>
<text transform="translate(165.94 409.36) rotate(0.4) scale(0.1)">0%</text>
<text transform="translate(183.52 409.36) rotate(0.4) scale(0.1)">0%</text>
<text transform="translate(201.09 409.36) rotate(0.4) scale(0.1)">0%</text>
<text transform="translate(218.67 409.36) rotate(0.4) scale(0.1)">0%</text>
<text transform="translate(236.25 409.36) rotate(0.4) scale(0.1)">0%</text>
<text transform="translate(253.82 409.36) rotate(0.4) scale(0.1)">0%</text>
<text transform="translate(271.40 409.36) rotate(0.4) scale(0.1)">1%</text>
<text transform="translate(288.97 409.36) rotate(0.4) scale(0.1)">0%</text>
<text transform="translate(306.55 409.36) rotate(0.4) scale(0.1)">0%</text>
<text transform="translate(324.13 409.36) rotate(0.4) scale(0.1)">0%</text>
<text transform="translate(341.70 409.36) rotate(0.4) scale(0.1)">0%</text>
<text transform="translate(359.28 409.36) rotate(0.4) scale(0.1)">0%</text>
<text transform="translate(376.85 409.36) rotate(0.4) scale(0.1)">0%</text>
<text transform="translate(394.43 409.36) rotate(0.4) scale(0.1)">0%</text>
<text transform="translate(412.01 409.36) rotate(0.4) scale(0.1)">0%</text>
<text transform="translate(429.58 409.36) rotate(0.4) scale(0.1)">0%</text>
<text transform="translate(447.16 409.36) rotate(0.4) scale(0.1)">77%</text>
<text transform="translate(464.74 409.36) rotate(0.4) scale(0.1)">0%</text>
<text transform="translate(482.31 409.36) rotate(0.4) scale(0.1)">20%</text>
<text transform="translate(130.79 426.91) rotate(0.4) scale(0.1)">0%</text>
<text transform="translate(148.36 426.91) rotate(0.4) scale(0.1)">0%</text>
<text transform="translate(165.94 426.91) rotate(0.4) scale(0.1)">0%</text>
<text transform="translate(183.52 426.91) rotate(0.4) scale(0.1)">0%</text>
<text transform="translate(201.09 426.91) rotate(0.4) scale(0.1)">0%</text>
<text transform="translate(218.67 426.91) rotate(0.4) scale(0.1)">1%</text>
<text transform="translate(236.25 426.91) rotate(0.4) scale(0.1)">0%</text>
<text transform="translate(253.82 426.91) rotate(0.4) scale(0.1)">0%</text>
<text transform="translate(271.40 426.91) rotate(0.4) scale(0.1)">0%</text>
<text transform="translate(288.97 426.91) rotate(0.4) scale(0.1)">0%</text>
<text transform="translate(306.55 426.91) rotate(0.4) scale(0.1)">0%</text>
<text transform="translate(324.13 426.91) rotate(0.4) scale(0.1)">0%</text>
<text transform="translate(341.70 426.91) rotate(0.4) scale(0.1)">0%</text>
<text transform="translate(359.28 426.91) rotate(0.4) scale(0.1)">0%</text>
<text transform="translate(376.85 426.91) rotate(0.4) scale(0.1)">0%</text>
<text transform="translate(394.43 426.91) rotate(0.4) scale(0.1)">0%</text>
<text transform="translate(412.01 426.91) rotate(0.4) scale(0.1)">0%</text>
<text transform="translate(429.58 426.91) rotate(0.4) scale(0.1)">0%</text>
<text transform="translate(447.16 426.91) rotate(0.4) scale(0.1)">0%</text>
<text transform="translate(464.74 426.91) rotate(0.4) scale(0.1)">89%</text>
<text transform="translate(482.31 426.91) rotate(0.4) scale(0.1)">9%</text>
<text transform="translate(130.79 444.45) rotate(0.4) scale(0.1)">1%</text>
<text transform="translate(148.36 444.45) rotate(0.4) scale(0.1)">1%</text>
<text transform="translate(165.94 444.45) rotate(0.4) scale(0.1)">3%</text>
<text transform="translate(183.52 444.45) rotate(0.4) scale(0.1)">7%</text>
<text transform="translate(201.09 444.45) rotate(0.4) scale(0.1)">1%</text>
<text transform="translate(218.67 444.45) rotate(0.4) scale(0.1)">1%</text>
<text transform="translate(236.25 444.45) rotate(0.4) scale(0.1)">9%</text>
<text transform="translate(253.82 444.45) rotate(0.4) scale(0.1)">4%</text>
<text transform="translate(271.40 444.45) rotate(0.4) scale(0.1)">35%</text>
<text transform="translate(288.97 444.45) rotate(0.4) scale(0.1)">3%</text>
<text transform="translate(306.55 444.45) rotate(0.4) scale(0.1)">3%</text>
<text transform="translate(324.13 444.45) rotate(0.4) scale(0.1)">0%</text>
<text transform="translate(341.70 444.45) rotate(0.4) scale(0.1)">1%</text>
<text transform="translate(359.28 444.45) rotate(0.4) scale(0.1)">2%</text>
<text transform="translate(376.85 444.45) rotate(0.4) scale(0.1)">1%</text>
<text transform="translate(394.43 444.45) rotate(0.4) scale(0.1)">2%</text>
<text transform="translate(412.01 444.45) rotate(0.4) scale(0.1)">5%</text>
<text transform="translate(429.58 444.45) rotate(0.4) scale(0.1)">0%</text>
<text transform="translate(447.16 444.45) rotate(0.4) scale(0.1)">11%</text>
<text transform="translate(464.74 444.45) rotate(0.4) scale(0.1)">0%</text>
<text transform="translate(482.31 444.45) rotate(0.4) scale(0.1)">0%</text>
</g>
<rect x="122" y="82.85" width="369.1" height="368.35" fill="none" stroke="#000" stroke-width="0.64"/>
<path d="M130.79 82.85v-2.8M122 91.62h-2.8M148.36 82.85v-2.8M122 109.16h-2.8M165.94 82.85v-2.8M122 126.70h-2.8M183.52 82.85v-2.8M122 144.24h-2.8M201.09 82.85v-2.8M122 161.78h-2.8M218.67 82.85v-2.8M122 179.32h-2.8M236.25 82.85v-2.8M122 196.86h-2.8M253.82 82.85v-2.8M122 214.40h-2.8M271.40 82.85v-2.8M122 231.94h-2.8M288.97 82.85v-2.8M122 249.48h-2.8M306.55 82.85v-2.8M122 267.02h-2.8M324.13 82.85v-2.8M122 284.57h-2.8M341.70 82.85v-2.8M122 302.11h-2.8M359.28 82.85v-2.8M122 319.65h-2.8M376.85 82.85v-2.8M122 337.19h-2.8M394.43 82.85v-2.8M122 354.73h-2.8M412.01 82.85v-2.8M122 372.27h-2.8M429.58 82.85v-2.8M122 389.81h-2.8M447.16 82.85v-2.8M122 407.35h-2.8M464.74 82.85v-2.8M122 424.89h-2.8M482.31 82.85v-2.8M122 442.43h-2.8" stroke="#000" stroke-width="0.64" fill="none"/>
<path d="M122 82.85h-1.6M122.00 451.2v1.6M122 100.39h-1.6M139.58 451.2v1.6M122 117.93h-1.6M157.15 451.2v1.6M122 135.47h-1.6M174.73 451.2v1.6M122 153.01h-1.6M192.30 451.2v1.6M122 170.55h-1.6M209.88 451.2v1.6M122 188.09h-1.6M227.46 451.2v1.6M122 205.63h-1.6M245.03 451.2v1.6M122 223.17h-1.6M262.61 451.2v1.6M122 240.71h-1.6M280.19 451.2v1.6M122 258.25h-1.6M297.76 451.2v1.6M122 275.80h-1.6M315.34 451.2v1.6M122 293.34h-1.6M332.91 451.2v1.6M122 310.88h-1.6M350.49 451.2v1.6M122 328.42h-1.6M368.07 451.2v1.6M122 345.96h-1.6M385.64 451.2v1.6M122 363.50h-1.6M403.22 451.2v1.6M122 381.04h-1.6M420.80 451.2v1.6M122 398.58h-1.6M438.37 451.2v1.6M122 416.12h-1.6M455.95 451.2v1.6M122 433.66h-1.6M473.52 451.2v1.6M122 451.20h-1.6M491.10 451.2v1.6" stroke="#000" stroke-width="0.5" fill="none"/>
<g class="t" text-anchor="end">
<text transform="translate(116.40 94.72) rotate(0.12)">airplane</text>
<text transform="translate(116.40 112.26) rotate(0.12)">airport</text>
<text transform="translate(116.40 129.80) rotate(0.12)">Expressway-toll-station</text>
<text transform="translate(116.40 147.34) rotate(0.12)">harbor</text>
<text transform="translate(116.40 164.88) rotate(0.12)">groundtrackfield</text>
<text transform="translate(116.40 182.42) rotate(0.12)">dam</text>
<text transform="translate(116.40 199.96) rotate(0.12)">golffield</text>
<text transform="translate(116.40 217.50) rotate(0.12)">storagetank</text>
<text transform="translate(116.40 235.04) rotate(0.12)">tenniscourt</text>
<text transform="translate(116.40 252.58) rotate(0.12)">vehicle</text>
<text transform="translate(116.40 270.12) rotate(0.12)">Expressway-Service-area</text>
<text transform="translate(116.40 287.67) rotate(0.12)">overpass</text>
<text transform="translate(116.40 305.21) rotate(0.12)">stadium</text>
<text transform="translate(116.40 322.75) rotate(0.12)">trainstation</text>
<text transform="translate(116.40 340.29) rotate(0.12)">windmill</text>
<text transform="translate(116.40 357.83) rotate(0.12)">baseballfield</text>
<text transform="translate(116.40 375.37) rotate(0.12)">basketballcourt</text>
<text transform="translate(116.40 392.91) rotate(0.12)">bridge</text>
<text transform="translate(116.40 410.45) rotate(0.12)">chimney</text>
<text transform="translate(116.40 427.99) rotate(0.12)">ship</text>
<text transform="translate(116.40 445.53) rotate(0.12)">background</text>
</g>
<g class="t">
<text transform="translate(130.89 78.05) rotate(-45)" x="0" y="-1.9">airplane</text>
<text transform="translate(148.46 78.05) rotate(-45)" x="0" y="-1.9">airport</text>
<text transform="translate(166.04 78.05) rotate(-45)" x="0" y="-1.9">Expressway-toll-station</text>
<text transform="translate(183.62 78.05) rotate(-45)" x="0" y="-1.9">harbor</text>
<text transform="translate(201.19 78.05) rotate(-45)" x="0" y="-1.9">groundtrackfield</text>
<text transform="translate(218.77 78.05) rotate(-45)" x="0" y="-1.9">dam</text>
<text transform="translate(236.35 78.05) rotate(-45)" x="0" y="-1.9">golffield</text>
<text transform="translate(253.92 78.05) rotate(-45)" x="0" y="-1.9">storagetank</text>
<text transform="translate(271.50 78.05) rotate(-45)" x="0" y="-1.9">tenniscourt</text>
<text transform="translate(289.07 78.05) rotate(-45)" x="0" y="-1.9">vehicle</text>
<text transform="translate(306.65 78.05) rotate(-45)" x="0" y="-1.9">Expressway-Service-area</text>
<text transform="translate(324.23 78.05) rotate(-45)" x="0" y="-1.9">overpass</text>
<text transform="translate(341.80 78.05) rotate(-45)" x="0" y="-1.9">stadium</text>
<text transform="translate(359.38 78.05) rotate(-45)" x="0" y="-1.9">trainstation</text>
<text transform="translate(376.95 78.05) rotate(-45)" x="0" y="-1.9">windmill</text>
<text transform="translate(394.53 78.05) rotate(-45)" x="0" y="-1.9">baseballfield</text>
<text transform="translate(412.11 78.05) rotate(-45)" x="0" y="-1.9">basketballcourt</text>
<text transform="translate(429.68 78.05) rotate(-45)" x="0" y="-1.9">bridge</text>
<text transform="translate(447.26 78.05) rotate(-45)" x="0" y="-1.9">chimney</text>
<text transform="translate(464.84 78.05) rotate(-45)" x="0" y="-1.9">ship</text>
<text transform="translate(482.41 78.05) rotate(-45)" x="0" y="-1.9">background</text>
</g>
<text class="t" text-anchor="middle" x="306.55" y="465.2">Prediction Label</text>
<text class="t" text-anchor="middle" transform="translate(10.85 267.52) rotate(-90)">Ground Truth Label</text>
<rect x="514.5" y="82.85" width="18.6" height="368.35" fill="url(#pl)" stroke="#000" stroke-width="0.64"/>
<g class="t">
<text x="538.70" y="454.10">0</text>
<text x="538.70" y="374.88">20</text>
<text x="538.70" y="295.67">40</text>
<text x="538.70" y="216.45">60</text>
<text x="538.70" y="137.24">80</text>
</g>
<path d="M533.1 451.20h2.8M533.1 371.98h2.8M533.1 292.77h2.8M533.1 213.55h2.8M533.1 134.34h2.8" stroke="#000" stroke-width="0.64" fill="none"/>
<text class="cap" x="263.3" y="492.3">(a)</text>
</svg></body></html>
